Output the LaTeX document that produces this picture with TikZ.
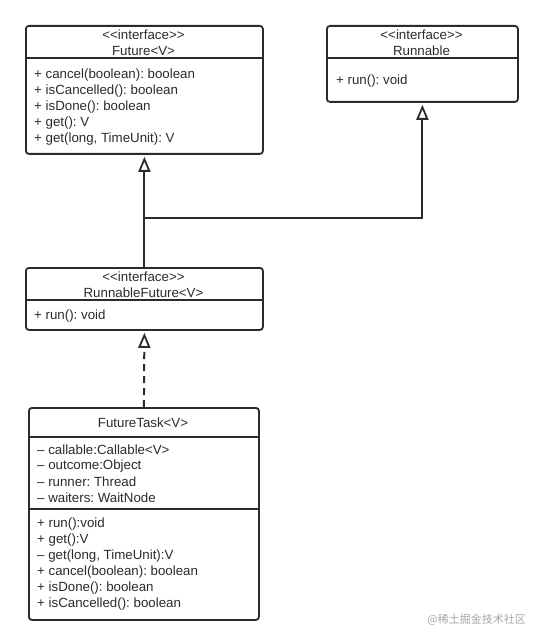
\documentclass[tikz,border=0pt]{standalone}
\usepackage{fontspec}
\setmainfont{Liberation Sans}[Ligatures=NoCommon]
\newfontfamily\cjk{Noto Sans CJK SC}
\usetikzlibrary{arrows.meta}
\definecolor{ink}{HTML}{2B2B2B}
\newcommand{\stopen}{\textless\kern0pt\textless}
\newcommand{\stclose}{\textgreater\kern0pt\textgreater}
\frenchspacing
\tikzset{
  x=1pt, y=-1pt,
  classbox/.style={draw=ink, line width=1.8pt, rounded corners=3pt, fill=white, anchor=north west, inner sep=0pt},
  sepline/.style={draw=ink, line width=1.5pt},
  title/.style={font=\fontsize{13.3}{15}\selectfont, text=ink, anchor=center, inner sep=0pt},
  member/.style={font=\fontsize{13.3}{15}\selectfont, text=ink, anchor=west, inner sep=0pt},
  inherit/.style={draw=ink, line width=2pt, -{Triangle[open,length=15pt,width=12pt,line width=1.8pt]}},
  realize/.style={inherit, dash pattern=on 7pt off 5pt},
}
\begin{document}
\frenchspacing
\begin{tikzpicture}
\useasboundingbox (0,0) rectangle (542,644);
% Future
\node[classbox, minimum width=237pt, minimum height=128pt] (future) at (25,25) {};
\draw[sepline] (25,58) -- (262,58);
\node[title] (futs) at (143.5,35) {\stopen interface\stclose};
\node[title] (futn) at (143.5,51) {Future\textless V\textgreater};
\node[member] (fm1) at (34,75) {+ cancel(boolean): boolean};
\node[member] (fm2) at (34,91) {+ isCancelled(): boolean};
\node[member] (fm3) at (34,107) {+ isDone(): boolean};
\node[member] (fm4) at (34,123) {+ get(): V};
\node[member] (fm5) at (34,139) {+ get(long, TimeUnit): V};
% Runnable
\node[classbox, minimum width=191pt, minimum height=76pt] (runnable) at (326,25) {};
\draw[sepline] (326,58) -- (517,58);
\node[title] (runs) at (421.5,35) {\stopen interface\stclose};
\node[title] (runn) at (421.5,51) {Runnable};
\node[member] (rm1) at (336,81) {+ run(): void};
% RunnableFuture
\node[classbox, minimum width=237pt, minimum height=62pt] (rf) at (25,267) {};
\draw[sepline] (25,300) -- (262,300);
\node[title] (rfs) at (143.5,277) {\stopen interface\stclose};
\node[title] (rfn) at (143.5,293) {RunnableFuture\textless V\textgreater};
\node[member] (rfm1) at (34,316) {+ run(): void};
% FutureTask
\node[classbox, minimum width=230pt, minimum height=212pt] (ft) at (28,407) {};
\draw[sepline] (28,437) -- (258,437);
\draw[sepline] (28,509) -- (258,509);
\node[title] (ftn) at (143,423) {FutureTask\textless V\textgreater};
\node[member] (fa1) at (37,450) {– callable:Callable\textless V\textgreater};
\node[member] (fa2) at (37,466) {– outcome:Object};
\node[member] (fa3) at (37,482) {– runner: Thread};
\node[member] (fa4) at (37,498) {– waiters: WaitNode};
\node[member] (fo1) at (37,524) {+ run():void};
\node[member] (fo2) at (37,540) {+ get():V};
\node[member] (fo3) at (37,556) {– get(long, TimeUnit):V};
\node[member] (fo4) at (37,572) {+ cancel(boolean): boolean};
\node[member] (fo5) at (37,588) {+ isDone(): boolean};
\node[member] (fo6) at (37,604) {+ isCancelled(): boolean};
% connectors
\coordinate (j) at (143.5,218);
\draw[inherit] (rf.north) -- ([yshift=-2pt]future.south);
\draw[inherit] (j) -| ([yshift=-2pt]runnable.south);
\draw[realize] (ft.north) -- ([yshift=-2pt]rf.south);
% watermark
\node[font=\cjk\fontsize{11}{13}\selectfont, text=black!35, anchor=east, inner sep=0pt] (wm) at (526,620) {@稀土掘金技术社区};
\end{tikzpicture}
\end{document}
